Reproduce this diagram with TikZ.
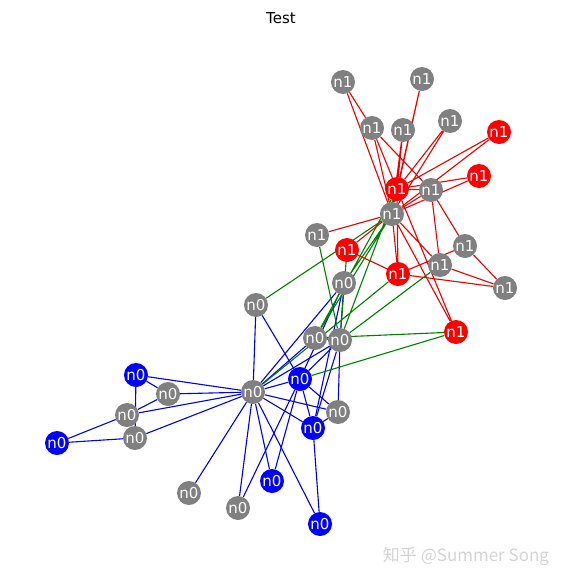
\documentclass[tikz,border=0pt]{standalone}
\usepackage{fontspec}
\setsansfont{DejaVu Sans}
\newfontfamily\cjk{Noto Sans CJK SC}
\usetikzlibrary{backgrounds}
\definecolor{NodeGray}{HTML}{808080}
\definecolor{NodeRed}{HTML}{FF0000}
\definecolor{NodeBlue}{HTML}{0000FF}
\definecolor{EdgeGreen}{HTML}{008000}
\definecolor{Mark}{HTML}{D4D4D4}

\begin{document}
\begin{tikzpicture}[
  x=1pt,y=-1pt,
  member/.style={circle,inner sep=0pt,minimum size=24pt,text=white,font=\sffamily\fontsize{15}{15}\selectfont},
  grayn/.style={member,fill=NodeGray},
  redn/.style={member,fill=NodeRed},
  bluen/.style={member,fill=NodeBlue},
  edgezero/.style={draw=NodeBlue!90!black,line width=1.1pt},
  edgeone/.style={draw=NodeRed!92!black,line width=1.1pt},
  edgecross/.style={draw=EdgeGreen,line width=1.1pt}
]
\useasboundingbox (0,0) rectangle (562,581);
\node[font=\sffamily\fontsize{15}{15}\selectfont] (title) at (281,18) {Test};
% group n0
\node[grayn] (m0) at (253,392) {n0};
\node[bluen] (m1) at (300,379) {n0};
\node[grayn] (m2) at (340,340) {n0};
\node[bluen] (m3) at (313,428) {n0};
\node[bluen] (m4) at (136,375) {n0};
\node[grayn] (m5) at (127,415) {n0};
\node[grayn] (m6) at (135,438) {n0};
\node[grayn] (m7) at (338,412) {n0};
\node[grayn] (m8) at (315,338) {n0};
\node[grayn] (m10) at (168,394) {n0};
\node[grayn] (m11) at (189,493) {n0};
\node[bluen] (m12) at (320,524) {n0};
\node[grayn] (m13) at (344,283) {n0};
\node[bluen] (m16) at (57,443) {n0};
\node[grayn] (m17) at (238,508) {n0};
\node[grayn] (m19) at (256,305) {n0};
\node[bluen] (m21) at (272,481) {n0};
% group n1
\node[grayn] (m9) at (317,235) {n1};
\node[grayn] (m14) at (422,79) {n1};
\node[grayn] (m15) at (403,130) {n1};
\node[grayn] (m18) at (450,121) {n1};
\node[redn] (m20) at (499,132) {n1};
\node[redn] (m22) at (479,176) {n1};
\node[grayn] (m23) at (431,190) {n1};
\node[grayn] (m24) at (505,288) {n1};
\node[grayn] (m25) at (465,246) {n1};
\node[grayn] (m26) at (343,82) {n1};
\node[grayn] (m27) at (440,265) {n1};
\node[redn] (m28) at (347,250) {n1};
\node[grayn] (m29) at (372,128) {n1};
\node[redn] (m30) at (456,332) {n1};
\node[redn] (m31) at (398,274) {n1};
\node[redn] (m32) at (397,189) {n1};
\node[grayn] (m33) at (392,214) {n1};
\node[font=\cjk\fontsize{17}{17}\selectfont,text=Mark] (mark) at (466,556) {知乎 @Summer Song};
% connectors below the members
\begin{scope}[on background layer]
\draw[edgezero] (m0) -- (m1) (m0) -- (m2) (m0) -- (m3) (m0) -- (m4) (m0) -- (m5)
  (m0) -- (m6) (m0) -- (m7) (m0) -- (m8) (m0) -- (m10) (m0) -- (m11)
  (m0) -- (m12) (m0) -- (m13) (m0) -- (m17) (m0) -- (m19) (m0) -- (m21);
\draw[edgezero] (m1) -- (m2) (m1) -- (m3) (m1) -- (m7) (m1) -- (m13) (m1) -- (m17)
  (m1) -- (m19) (m1) -- (m21);
\draw[edgezero] (m2) -- (m3) (m2) -- (m7) (m2) -- (m8) (m2) -- (m13);
\draw[edgezero] (m3) -- (m7) (m3) -- (m12) (m3) -- (m13);
\draw[edgezero] (m4) -- (m6) (m4) -- (m10) (m5) -- (m6) (m5) -- (m10) (m5) -- (m16)
  (m6) -- (m16);
\draw[edgecross] (m0) -- (m31) (m1) -- (m30) (m2) -- (m9) (m2) -- (m27) (m2) -- (m28)
  (m2) -- (m32) (m8) -- (m30) (m8) -- (m32) (m8) -- (m33) (m13) -- (m33) (m19) -- (m33);
\draw[edgeone] (m9) -- (m33) (m14) -- (m32) (m14) -- (m33) (m15) -- (m32) (m15) -- (m33)
  (m18) -- (m32) (m18) -- (m33) (m20) -- (m32) (m20) -- (m33) (m22) -- (m32) (m22) -- (m33);
\draw[edgeone] (m23) -- (m25) (m23) -- (m27) (m23) -- (m29) (m23) -- (m32) (m23) -- (m33)
  (m24) -- (m25) (m24) -- (m27) (m24) -- (m31) (m25) -- (m31);
\draw[edgeone] (m26) -- (m29) (m26) -- (m33) (m27) -- (m33) (m28) -- (m31) (m28) -- (m33)
  (m29) -- (m32) (m29) -- (m33) (m30) -- (m32) (m30) -- (m33);
\draw[edgeone] (m31) -- (m32) (m31) -- (m33) (m32) -- (m33);
\end{scope}
\end{tikzpicture}
\end{document}
